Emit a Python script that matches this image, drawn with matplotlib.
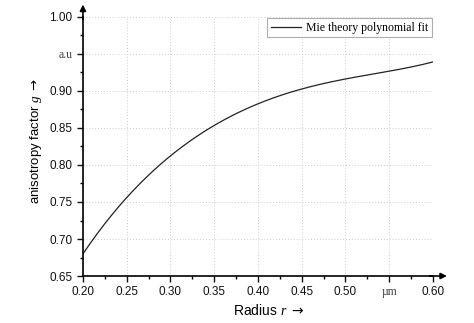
import matplotlib.pyplot as plt
import numpy as np
from matplotlib.ticker import MultipleLocator, FixedLocator

radius = [0.200, 0.225, 0.250, 0.275, 0.300, 0.325, 0.350, 0.375, 0.400,
          0.425, 0.450, 0.475, 0.500, 0.525, 0.550, 0.575, 0.600]
g_fit = [0.680, 0.720, 0.757, 0.786, 0.812, 0.835, 0.853, 0.869, 0.883,
         0.894, 0.903, 0.910, 0.916, 0.921, 0.927, 0.933, 0.939]

x_ticks = [0.20, 0.25, 0.30, 0.35, 0.40, 0.45, 0.50, 0.55, 0.60]
x_labels = ['0.20', '0.25', '0.30', '0.35', '0.40', '0.45', '0.50', 'µm', '0.60']
y_ticks = [0.65, 0.70, 0.75, 0.80, 0.85, 0.90, 0.95, 1.00]
y_labels = ['0.65', '0.70', '0.75', '0.80', '0.85', '0.90', 'a.u', '1.00']

plt.rcParams['font.family'] = ['Liberation Sans', 'DejaVu Sans']
plt.rcParams['mathtext.fontset'] = 'custom'
plt.rcParams['mathtext.it'] = 'Liberation Serif:italic'
plt.rcParams['mathtext.rm'] = 'DejaVu Sans'

fig = plt.figure(figsize=(4.74, 3.23), dpi=100)
ax = fig.add_axes([0.175, 0.1455, 0.7384, 0.8019])

# smooth through the read points
xs = np.linspace(radius[0], radius[-1], 200)
coef = np.polyfit(radius, g_fit, 5)
ax.plot(xs, np.polyval(coef, xs), color='#222222', lw=0.9, label='Mie theory polynomial fit')

ax.set_xlim(0.2, 0.6)
ax.set_ylim(0.65, 1.0)
ax.xaxis.set_major_locator(FixedLocator(x_ticks))
ax.yaxis.set_major_locator(FixedLocator(y_ticks))
ax.set_xticklabels(x_labels)
ax.set_yticklabels(y_labels)
ax.xaxis.set_minor_locator(MultipleLocator(0.025))
ax.yaxis.set_minor_locator(MultipleLocator(0.025))
ax.tick_params(which='major', direction='out', length=4, width=1, labelsize=8.5, colors='#111111')
ax.tick_params(which='minor', direction='out', length=2.5, width=1)
for lab in ax.get_xticklabels() + ax.get_yticklabels():
    if lab.get_text() in ('µm', 'a.u'):
        lab.set_family('Liberation Serif')
        lab.set_color('#444444')

ax.grid(True, which='major', ls=(0, (1, 2)), color='#cccccc', lw=0.7)

for s in ['top', 'right']:
    ax.spines[s].set_visible(False)
for s in ['left', 'bottom']:
    ax.spines[s].set_linewidth(1.2)

# axis arrows
ax.annotate('', xy=(0, 1.048), xycoords='axes fraction', xytext=(0, 0.99),
            annotation_clip=False,
            arrowprops=dict(arrowstyle='-|>', color='black', lw=1.2, mutation_scale=9,
                            shrinkA=0, shrinkB=0))
ax.annotate('', xy=(1.04, 0), xycoords='axes fraction', xytext=(0.99, 0),
            annotation_clip=False,
            arrowprops=dict(arrowstyle='-|>', color='black', lw=1.2, mutation_scale=9,
                            shrinkA=0, shrinkB=0))

ax.set_xlabel(r'Radius $r$ $\rightarrow$', fontsize=10)
ax.set_ylabel(r'anisotropy factor $g$ $\rightarrow$', fontsize=9.5)
ax.xaxis.set_label_coords(0.53, -0.105)
ax.yaxis.set_label_coords(-0.11, 0.52)

leg = ax.legend(loc='upper right', bbox_to_anchor=(1.0, 1.0), borderaxespad=0.1,
                prop={'family': 'Liberation Serif', 'size': 8.5},
                frameon=True, fancybox=False, edgecolor='#999999', handlelength=2.6,
                borderpad=0.3, handletextpad=0.4)
leg.get_frame().set_linewidth(0.8)

fig.savefig('out.png', dpi=100)
